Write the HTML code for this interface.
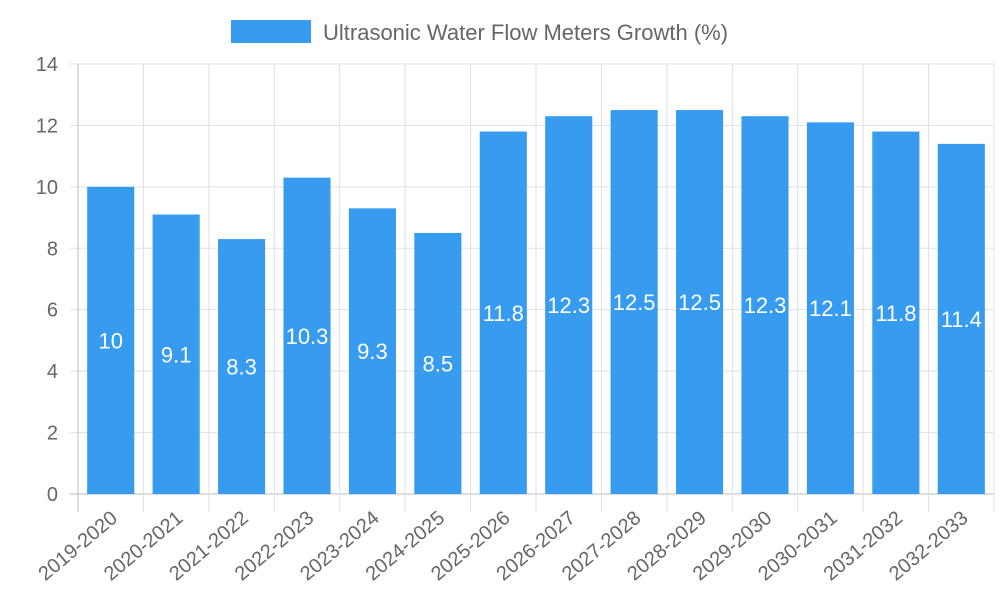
<!DOCTYPE html>
<html><head><meta charset="utf-8"><style>
body{margin:0;background:#fff;font-family:"Liberation Sans",sans-serif}
</style></head><body>
<svg id="c" width="1000" height="600" xmlns="http://www.w3.org/2000/svg">
<g>
<rect x="231" y="20" width="80" height="23" fill="#379cf0"/>
<text x="323" y="40" font-size="22" fill="#666" font-family="Liberation Sans, sans-serif">Ultrasonic Water Flow Meters Growth (%)</text>
</g>
</svg>
<script>
const categories=["2019-2020","2020-2021","2021-2022","2022-2023","2023-2024","2024-2025","2025-2026","2026-2027","2027-2028","2028-2029","2029-2030","2030-2031","2031-2032","2032-2033"];
const values=[10,9.1,8.3,10.3,9.3,8.5,11.8,12.3,12.5,12.5,12.3,12.1,11.8,11.4];
const yTicks=[0,2,4,6,8,10,12,14];
const svg=document.getElementById('c');
const NS='http://www.w3.org/2000/svg';
const L=78,R=994,T=64,B=494,yMax=14;
const step=(R-L)/categories.length;
const y=v=>B-(v/yMax)*(B-T);
const x=i=>L+step*i;
function mk(tag,a){const e=document.createElementNS(NS,tag);for(const k in a)e.setAttribute(k,a[k]);svg.appendChild(e);return e;}
yTicks.forEach(t=>{
 const g=mk('line',{x1:L-8,x2:R,y1:y(t),y2:y(t),stroke:t===0?'#bbb':'#e0e0e0','stroke-width':1});
 
 
 const tx=mk('text',{x:L-20,y:y(t)+7,'text-anchor':'end','font-size':20,fill:'#666'});
 tx.textContent=t;
 
 
});
for(let i=0;i<=categories.length;i++){
 const g=mk('line',{x1:x(i),x2:x(i),y1:T,y2:B+18,stroke:i===0?'#bbb':'#e0e0e0','stroke-width':1});
 
 
}
categories.forEach((c,i)=>{
 const cx=x(i)+step/2,bw=step*0.72;
 const r=mk('rect',{x:cx-bw/2,y:y(values[i]),width:bw,height:B-y(values[i]),fill:'#379cf0'});
 
 
 const v=mk('text',{x:cx,y:(y(values[i])+B)/2+8,'text-anchor':'middle','font-size':22,fill:'#fff'});
 v.textContent=values[i];
 
 
 const tl=mk('text',{x:cx+8,y:B+26,'text-anchor':'end','font-size':20,fill:'#666',transform:`rotate(-40 ${cx+8} ${B+26})`});
 tl.textContent=c;
 
 
});
</script>
</body></html>
